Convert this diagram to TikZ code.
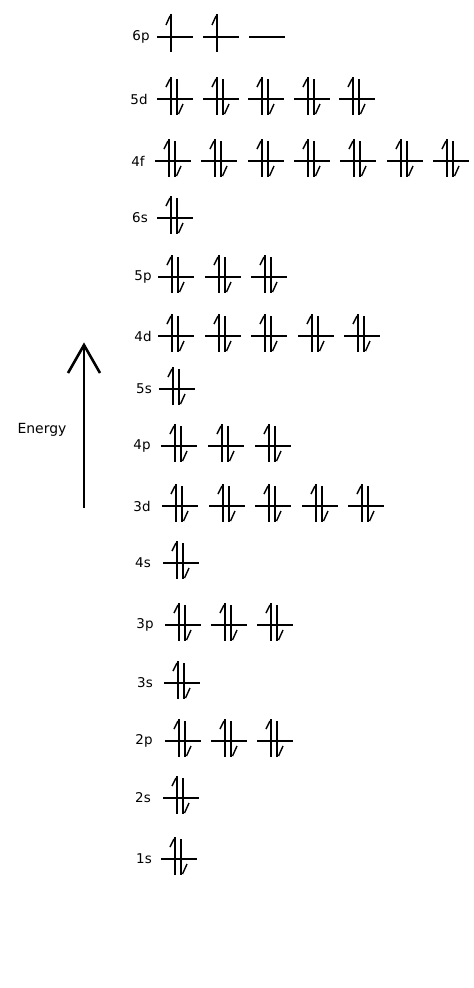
\documentclass[tikz,border=0pt]{standalone}
\usepackage{fontspec}
\setmainfont{DejaVu Sans}
\begin{document}
\begin{tikzpicture}[x=1bp,y=-1bp,
  orb/.style={line width=2bp,line cap=butt},
  head/.style={line width=1.4bp},
  lbl/.style={font=\fontsize{13.5}{15}\selectfont,inner sep=0pt},
  paired/.pic={\draw[orb] (0,0) -- (36,0);
    \draw[orb] (14,-22) -- (14,16);
    \draw[head] (9,-12) -- (13,-20);
    \draw[orb] (20,-20) -- (20,16);
    \draw[head] (21.5,15) -- (26,5);},
  single/.pic={\draw[orb] (0,0) -- (36,0);
    \draw[orb] (14,-23) -- (14,15);
    \draw[head] (9,-12) -- (13,-21);},
  empty/.pic={\draw[orb] (0,0) -- (36,0);}
]
\useasboundingbox (0,0) rectangle (474,988);
% energy axis
\node[font=\fontsize{14}{16}\selectfont,inner sep=0pt] (energy) at (42,430) {Energy};
\coordinate (ebot) at (84,508);
\coordinate (etop) at (84,345);
\draw[line width=2.8bp] (ebot) -- (etop);
\draw[line width=2.6bp,line join=miter] (68,373) -- (etop) -- (100,373);
% rows: label, label x, y, x start, spacing, type list
\foreach \lab/\lx/\y/\xs/\sp/\types in {
  6p/141/37/157/46/{single,single,empty},
  5d/139/99/157/45.5/{paired,paired,paired,paired,paired},
  4f/138/161/155/46.3/{paired,paired,paired,paired,paired,paired,paired},
  6s/140/218/157/46/{paired},
  5p/143/277/158/46.5/{paired,paired,paired},
  4d/143/336/158/46.5/{paired,paired,paired,paired,paired},
  5s/144/389/159/46/{paired},
  4p/142/446/161/46.8/{paired,paired,paired},
  3d/142/506/162/46.5/{paired,paired,paired,paired,paired},
  4s/143/563/163/46/{paired},
  3p/145/625/165/46/{paired,paired,paired},
  3s/145/683/164/46/{paired},
  2p/144/741/165/46/{paired,paired,paired},
  2s/143/798/163/46/{paired},
  1s/144/859/161/46/{paired}}{
  \node[lbl] (l\lab) at (\lx,\y) {\lab};
  \foreach \t [count=\i from 0] in \types {
    \pgfmathsetmacro{\ox}{round(\xs+\i*\sp)}
    \pic at (\ox,\y) {\t};
  }
}
\end{tikzpicture}
\end{document}
